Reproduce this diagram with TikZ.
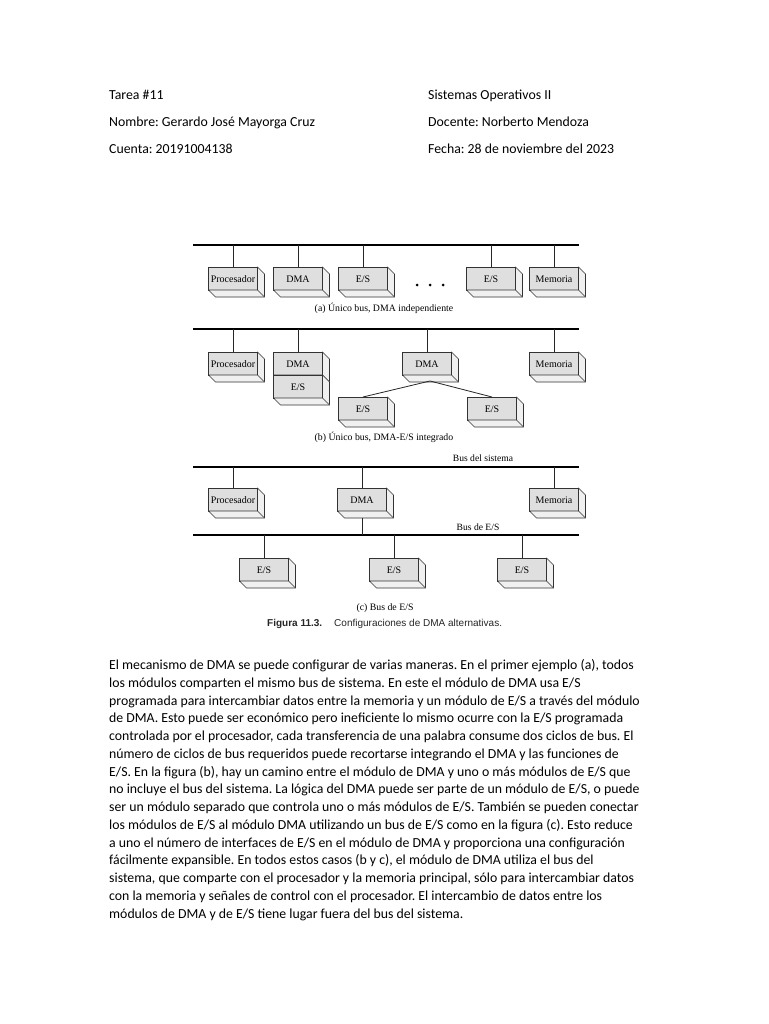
\documentclass[tikz,border=0pt]{standalone}
\usepackage{fontspec}
\setmainfont{Carlito}
\newfontfamily\serifdiag{Liberation Serif}
\newfontfamily\helv{Liberation Sans}
\usetikzlibrary{calc}
\frenchspacing
\tikzset{
  bodytext/.style={anchor=base west, inner sep=0pt, font=\fontsize{13.8}{16}\selectfont},
  modbox/.style={draw=black!80, fill=gray!25, minimum width=49, minimum height=23, inner sep=0pt, outer sep=0pt, text height=7pt, text depth=0pt, line width=0.6, font=\serifdiag\fontsize{10}{12}\selectfont},
  sideface/.style={draw=black!80, fill=gray!12, line width=0.6, line join=round},
  busline/.style={line width=1.8},
  dropline/.style={line width=0.8, draw=black!85},
  captext/.style={inner sep=0pt, font=\serifdiag\fontsize{9.8}{12}\selectfont},
  buslabel/.style={inner sep=0pt, font=\serifdiag\fontsize{9.6}{11}\selectfont},
}
\newcommand{\depthof}[1]{%
  \filldraw[sideface] (#1.north east) -- ++(7,7) -- ($(#1.south east)+(7,7)$) -- ($(#1.south west)+(7,7)$) -- (#1.south west) -- (#1.south east) -- cycle;
  \draw[sideface] (#1.south east) -- ++(7,7);}
\begin{document}
\begin{tikzpicture}[x=1pt,y=-1pt]
\useasboundingbox (0,0) rectangle (768,1024);
\fill[white] (0,0) rectangle (768,1024);

% header
\node[bodytext] (h1) at (109,99.5) {Tarea \#11};
\node[bodytext] (h2) at (109,126.5) {Nombre: Gerardo José Mayorga Cruz};
\node[bodytext] (h3) at (109,153.5) {Cuenta: 20191004138};
\node[bodytext] (h4) at (428,99.5) {Sistemas Operativos II};
\node[bodytext] (h5) at (428,126.5) {Docente: Norberto Mendoza};
\node[bodytext] (h6) at (428,153.5) {Fecha: 28 de noviembre del 2023};

% ---------- (a)
\coordinate (aL) at (193,245); \coordinate (aR) at (579,245);
\draw[busline] (aL) -- (aR);
\node[modbox] (aP) at (233,278.5) {Procesador}; \depthof{aP}
\node[modbox] (aD) at (298,278.5) {DMA}; \depthof{aD}
\node[modbox] (aE1) at (363,278.5) {E/S}; \depthof{aE1}
\node[modbox] (aE2) at (491,278.5) {E/S}; \depthof{aE2}
\node[modbox] (aM) at (554,278.5) {Memoria}; \depthof{aM}
\foreach \n in {aP,aD,aE1,aE2,aM} \draw[dropline] (\n.north) -- (\n.north |- aL);
\fill (417,285) circle (1.5); \fill (430,285) circle (1.5); \fill (443,285) circle (1.5);
\node[captext] (acap) at (384,308) {(a) Único bus, DMA independiente};

% ---------- (b)
\coordinate (bL) at (193,329); \coordinate (bR) at (579,329);
\draw[busline] (bL) -- (bR);
\node[modbox] (bP) at (233,363.5) {Procesador}; \depthof{bP}
\node[modbox] (bD1) at (298,363.5) {DMA}; \depthof{bD1}
\node[modbox] (bE1) at (298,386.5) {E/S}; \depthof{bE1}
\node[modbox] (bD2) at (427,363.5) {DMA}; \depthof{bD2}
\node[modbox] (bM) at (554,363.5) {Memoria}; \depthof{bM}
\foreach \n in {bP,bD1,bD2,bM} \draw[dropline] (\n.north) -- (\n.north |- bL);
\node[modbox] (bE2) at (363,408.5) {E/S}; \depthof{bE2}
\node[modbox] (bE3) at (492,408.5) {E/S}; \depthof{bE3}
\coordinate (bA) at ($(bD2.south)+(3,6)$);
\draw[dropline] (bE2.north) -- (bA) -- (bE3.north);
\node[captext] (bcap) at (384,437) {(b) Único bus, DMA-E/S integrado};

% ---------- (c)
\node[buslabel] (sysl) at (483,458) {Bus del sistema};
\coordinate (cL) at (193,467); \coordinate (cR) at (579,467);
\draw[busline] (cL) -- (cR);
\node[modbox] (cP) at (233,499.5) {Procesador}; \depthof{cP}
\node[modbox] (cD) at (362,499.5) {DMA}; \depthof{cD}
\node[modbox] (cM) at (554,499.5) {Memoria}; \depthof{cM}
\foreach \n in {cP,cD,cM} \draw[dropline] (\n.north) -- (\n.north |- cL);
\node[buslabel] (iol) at (478,527) {Bus de E/S};
\coordinate (ioL) at (193,535); \coordinate (ioR) at (579,535);
\draw[busline] (ioL) -- (ioR);
\coordinate (cDb) at ($(cD.south)+(0,7)$);
\draw[dropline] (cDb) -- (cDb |- ioL);
\node[modbox] (cE1) at (264,569.5) {E/S}; \depthof{cE1}
\node[modbox] (cE2) at (394,569.5) {E/S}; \depthof{cE2}
\node[modbox] (cE3) at (522,569.5) {E/S}; \depthof{cE3}
\foreach \n in {cE1,cE2,cE3} \draw[dropline] (\n.north) -- (\n.north |- ioL);
\node[captext] (ccap) at (385,608) {(c) Bus de E/S};
\node[anchor=base west, inner sep=0pt, text=black!85, font=\helv\fontsize{10}{12}\selectfont] (fig) at (267,626) {\textbf{Figura 11.3.}\hspace{12pt}Configuraciones de DMA alternativas.};

% body text
\node[bodytext] (t1) at (109,669.5) {El mecanismo de DMA se puede configurar de varias maneras. En el primer ejemplo (a), todos};
\node[bodytext] (t2) at (109,687.25) {los módulos comparten el mismo bus de sistema. En este el módulo de DMA usa E/S};
\node[bodytext] (t3) at (109,705) {programada para intercambiar datos entre la memoria y un módulo de E/S a través del módulo};
\node[bodytext] (t4) at (109,722.75) {de DMA. Esto puede ser económico pero ineficiente lo mismo ocurre con la E/S programada};
\node[bodytext] (t5) at (109,740.5) {controlada por el procesador, cada transferencia de una palabra consume dos ciclos de bus. El};
\node[bodytext] (t6) at (109,758.25) {número de ciclos de bus requeridos puede recortarse integrando el DMA y las funciones de};
\node[bodytext] (t7) at (109,776) {E/S. En la figura (b), hay un camino entre el módulo de DMA y uno o más módulos de E/S que};
\node[bodytext] (t8) at (109,793.75) {no incluye el bus del sistema. La lógica del DMA puede ser parte de un módulo de E/S, o puede};
\node[bodytext] (t9) at (109,811.5) {ser un módulo separado que controla uno o más módulos de E/S. También se pueden conectar};
\node[bodytext] (t10) at (109,829.25) {los módulos de E/S al módulo DMA utilizando un bus de E/S como en la figura (c). Esto reduce};
\node[bodytext] (t11) at (109,847) {a uno el número de interfaces de E/S en el módulo de DMA y proporciona una configuración};
\node[bodytext] (t12) at (109,864.75) {fácilmente expansible. En todos estos casos (b y c), el módulo de DMA utiliza el bus del};
\node[bodytext] (t13) at (109,882.5) {sistema, que comparte con el procesador y la memoria principal, sólo para intercambiar datos};
\node[bodytext] (t14) at (109,900.25) {con la memoria y señales de control con el procesador. El intercambio de datos entre los};
\node[bodytext] (t15) at (109,918) {módulos de DMA y de E/S tiene lugar fuera del bus del sistema.};
\end{tikzpicture}
\end{document}
